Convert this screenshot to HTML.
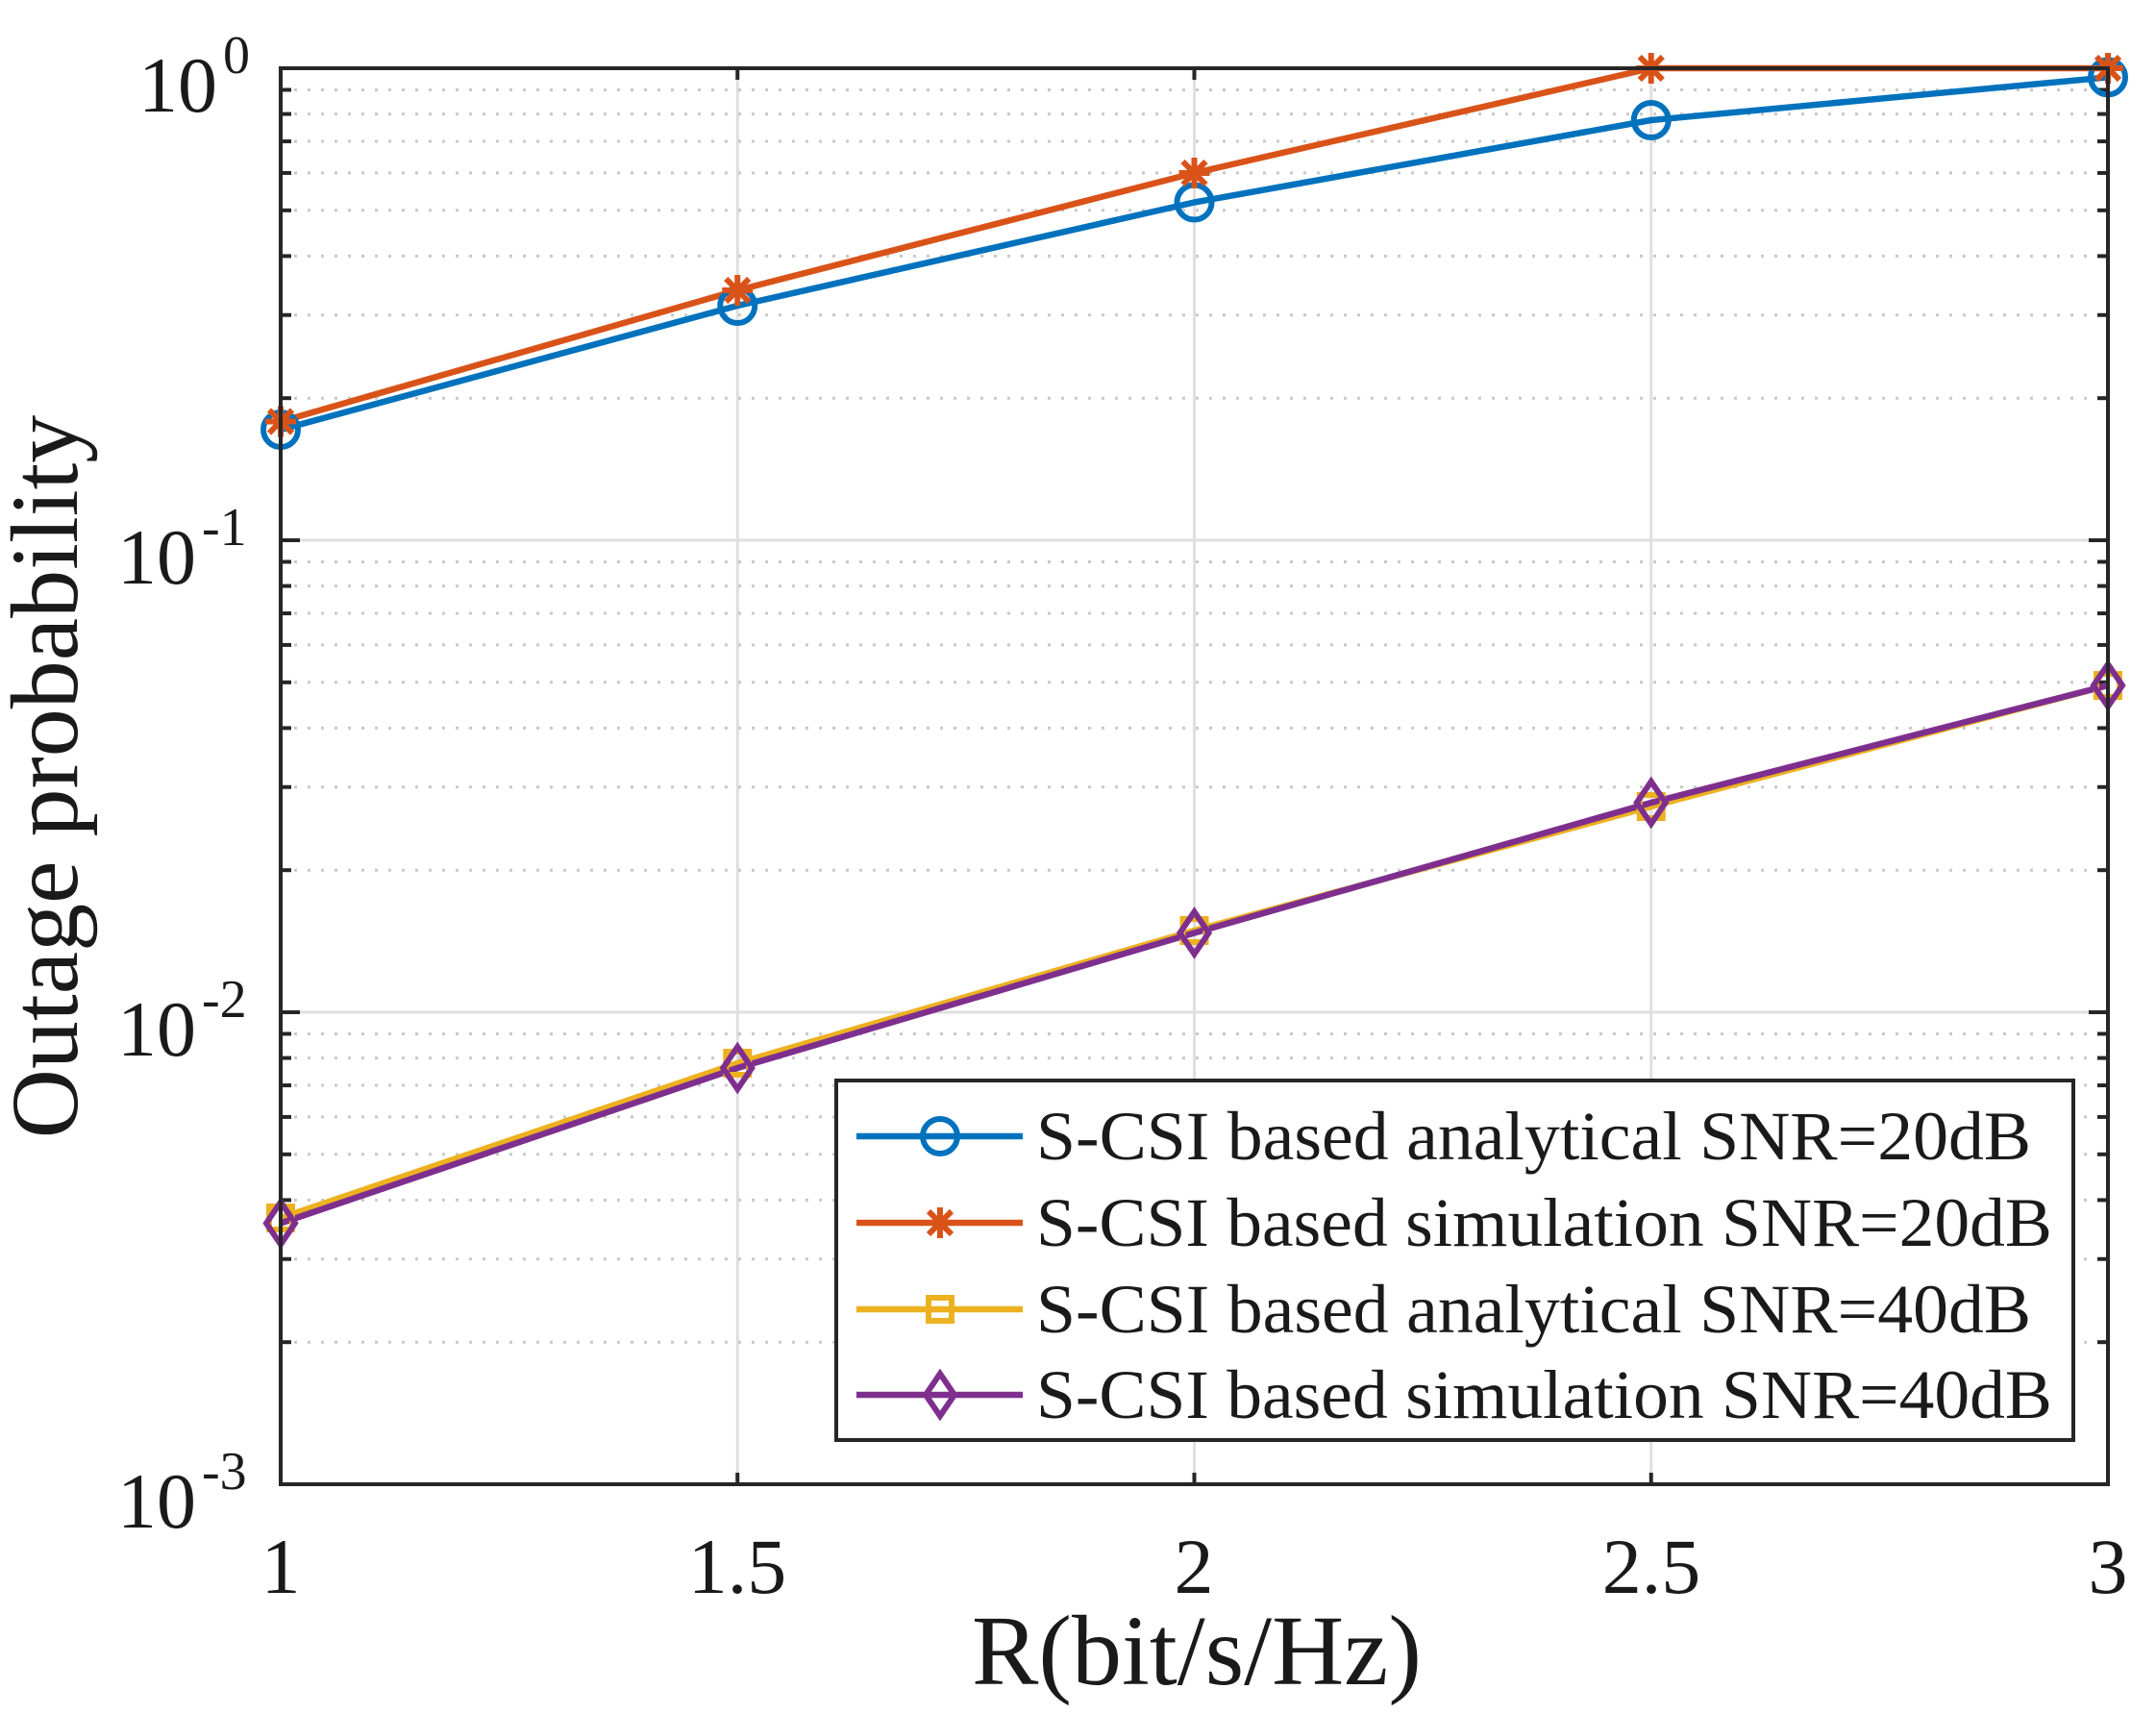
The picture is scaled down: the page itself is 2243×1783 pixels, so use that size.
<!DOCTYPE html>
<html><head><meta charset="utf-8"><style>
html,body{margin:0;padding:0;background:#fff;}
svg{display:block;}
text{font-family:"Liberation Serif",serif;fill:#1a1a1a;}
</style></head><body>
<svg id="s" width="2243" height="1783" viewBox="0 0 2243 1783" xmlns="http://www.w3.org/2000/svg">
<rect width="2243" height="1783" fill="#fff"/>
<g id="grid"></g>
<g id="ticks"></g>
<g fill="none" stroke-width="6.5" stroke-linejoin="round">
<polyline stroke="#0072BD" points="292,447 767.25,318 1242.5,210.5 1717.75,125 2193,80.4"/>
<polyline stroke="#D95319" points="292,438.5 767.25,302 1242.5,180 1717.75,71 2193,71"/>
<polyline stroke="#EDB120" points="292,1267 767.25,1106 1242.5,968 1717.75,839 2193,713"/>
<polyline stroke="#7E2F8E" points="292,1272.5 767.25,1111 1242.5,970.5 1717.75,835 2193,713"/>
</g>
<g id="markers"></g>
<rect x="292" y="71" width="1901" height="1473" fill="none" stroke="#262626" stroke-width="4"/>
<g font-size="82" text-anchor="end">
<text x="226" y="116">10</text><text x="232" y="76" font-size="56" text-anchor="start">0</text>
<text x="204" y="607">10</text><text x="210" y="567" font-size="56" text-anchor="start">-1</text>
<text x="204" y="1098">10</text><text x="210" y="1058" font-size="56" text-anchor="start">-2</text>
<text x="204" y="1589">10</text><text x="210" y="1549" font-size="56" text-anchor="start">-3</text>
</g>
<g font-size="82" text-anchor="middle">
<text x="292" y="1657">1</text>
<text x="767" y="1657">1.5</text>
<text x="1242" y="1657">2</text>
<text x="1718" y="1657">2.5</text>
<text x="2193" y="1657">3</text>
</g>
<text x="1245" y="1752" font-size="104" text-anchor="middle">R(bit/s/Hz)</text>
<text transform="translate(80,808) rotate(-90)" font-size="100" text-anchor="middle">Outage probability</text>
<rect x="870" y="1124" width="1287" height="374" fill="#fff" stroke="#262626" stroke-width="4"/>
<g font-size="72">
<text x="1078" y="1206" textLength="1035" lengthAdjust="spacingAndGlyphs">S-CSI based analytical SNR=20dB</text>
<text x="1078" y="1296" textLength="1057" lengthAdjust="spacingAndGlyphs">S-CSI based simulation SNR=20dB</text>
<text x="1078" y="1386" textLength="1035" lengthAdjust="spacingAndGlyphs">S-CSI based analytical SNR=40dB</text>
<text x="1078" y="1475" textLength="1057" lengthAdjust="spacingAndGlyphs">S-CSI based simulation SNR=40dB</text>
</g>
<g stroke-width="6.5">
<line x1="891" y1="1182" x2="1064" y2="1182" stroke="#0072BD"/>
<line x1="891" y1="1272" x2="1064" y2="1272" stroke="#D95319"/>
<line x1="891" y1="1362" x2="1064" y2="1362" stroke="#EDB120"/>
<line x1="891" y1="1451" x2="1064" y2="1451" stroke="#7E2F8E"/>
</g>
<g id="legm"></g>
<script>
var NS="http://www.w3.org/2000/svg";
function el(p,t,a){var e=document.createElementNS(NS,t);for(var k in a)e.setAttribute(k,a[k]);p.appendChild(e);return e;}
var g=document.getElementById('grid'),tk=document.getElementById('ticks');
var L=292,R=2193,T=71,B=1544;
var xs=[292,767.25,1242.5,1717.75,2193];
xs.forEach(function(x,i){ if(i>0&&i<4) el(g,'line',{x1:x,y1:T,x2:x,y2:B,stroke:'#dfdfdf','stroke-width':3});
 el(tk,'line',{x1:x,y1:B,x2:x,y2:B-12,stroke:'#262626','stroke-width':4});
 el(tk,'line',{x1:x,y1:T,x2:x,y2:T+12,stroke:'#262626','stroke-width':4});});
for(var d=0;d<3;d++){var base=T+491*(d+1);
 if(d<2) el(g,'line',{x1:L,y1:base,x2:R,y2:base,stroke:'#dfdfdf','stroke-width':3});
 el(tk,'line',{x1:L,y1:base,x2:L+20,y2:base,stroke:'#262626','stroke-width':4});
 el(tk,'line',{x1:R,y1:base,x2:R-20,y2:base,stroke:'#262626','stroke-width':4});
 for(var k=2;k<=9;k++){var y=base-491*Math.log10(k);
  el(g,'line',{x1:L,y1:y,x2:R,y2:y,stroke:'#c8c8c8','stroke-width':3,'stroke-dasharray':'3 11'});
  el(tk,'line',{x1:L,y1:y,x2:L+11,y2:y,stroke:'#262626','stroke-width':4});
  el(tk,'line',{x1:R,y1:y,x2:R-11,y2:y,stroke:'#262626','stroke-width':4});}}
var m=document.getElementById('markers');
function circ(p,x,y){el(p,'circle',{cx:x,cy:y,r:18,fill:'none',stroke:'#0072BD','stroke-width':6});}
function star(p,x,y){var s=16,a={stroke:'#D95319','stroke-width':6};
 [[0,-s,0,s],[-s,0,s,0],[-s*.75,-s*.75,s*.75,s*.75],[-s*.75,s*.75,s*.75,-s*.75]].forEach(function(q){
 var o={x1:x+q[0],y1:y+q[1],x2:x+q[2],y2:y+q[3]};for(var k in a)o[k]=a[k];el(p,'line',o);});}
function sq(p,x,y){el(p,'rect',{x:x-12,y:y-12,width:24,height:24,fill:'none',stroke:'#EDB120','stroke-width':6});}
function dia(p,x,y){el(p,'polygon',{points:(x)+','+(y-22)+' '+(x+15)+','+y+' '+x+','+(y+22)+' '+(x-15)+','+y,fill:'none',stroke:'#7E2F8E','stroke-width':6});}
var b=[447,318,210.5,125,80.4],r=[438.5,302,180,71,71],yy=[1267,1106,968,839,713],pp=[1272.5,1111,970.5,835,713];
xs.forEach(function(x,i){circ(m,x,b[i]);star(m,x,r[i]);sq(m,x,yy[i]);dia(m,x,pp[i]);});
var lm=document.getElementById('legm');
circ(lm,978,1182);star(lm,978,1272);sq(lm,978,1362);dia(lm,978,1451);
</script>
</svg>
</body></html>
